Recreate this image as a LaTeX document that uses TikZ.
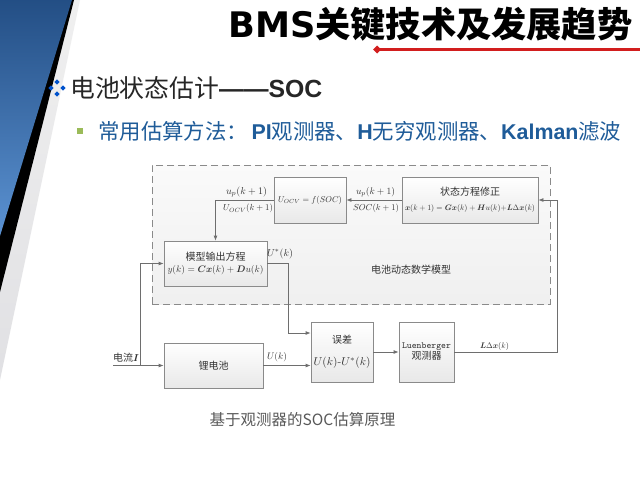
\RequirePackage{fix-cm}
\documentclass[tikz,border=0pt]{standalone}
\usepackage{amsmath}
\usepackage{fontspec}
\usepackage{graphicx}
\newfontfamily\cjk{Noto Sans CJK SC}
\newfontfamily\verd{DejaVu Sans}
\newfontfamily\arial{Liberation Sans}
\usetikzlibrary{arrows.meta,calc}
\newcommand\fw[2]{\resizebox{#1pt}{!}{#2}}
\definecolor{txt}{HTML}{333333}
\definecolor{bord}{HTML}{8A8A8A}
\definecolor{bandblue}{HTML}{2C62A6}
\definecolor{bandlight}{HTML}{5B92D2}
\definecolor{subblue}{HTML}{1F5C99}
\definecolor{bulletgreen}{HTML}{9BBB59}
\definecolor{redline}{HTML}{D21E1E}
\begin{document}
\begin{tikzpicture}[x=1pt,y=-1pt,
  box/.style={draw=bord, line width=0.8pt, top color=white, bottom color=black!9, text=txt, inner sep=1pt, align=center},
  dashbox/.style={draw=bord, line width=1pt, dash pattern=on 7pt off 4pt, top color=black!2, bottom color=black!6},
  arr/.style={draw=bord!80!black, line width=0.8pt, -{Latex[length=5pt,width=4pt]}},
  lbl/.style={text=txt, inner sep=0pt},
  cjklbl/.style={text=txt, inner sep=0pt, font=\cjk\fontsize{10}{12}\selectfont}]
\useasboundingbox (0,0) rectangle (640,480);
\fill[white] (0,0) rectangle (640,480);
% left decorative band
\shade[top color=black!6, bottom color=blue!10!black!12] (0,0) -- (80,0) -- (0,380) -- cycle;
\fill[black] (0,0) -- (74,0) -- (0,292) -- cycle;
\shade[left color=bandblue!80!black, right color=bandlight, shading angle=0] (0,0) -- (72,0) -- (0,236) -- cycle;
% title
\node[anchor=base west, inner sep=0pt, font=\fontsize{35.2}{37}\selectfont\bfseries] (title) at (228,37) {{\verd BMS}{\cjk 关键技术及发展趋势}};
\fill[redline] (377,48) -- (640,48) -- (640,51) -- (377,51) -- cycle;
\fill[redline] (377,45.5) -- (381,49.5) -- (377,53.5) -- (373,49.5) -- cycle;
% bullet 1
\foreach \dx/\dy in {0/-6,-6/0,6/0,0/6}
  \fill[blue!60!cyan!80!black] ($(57,88)+(\dx,\dy)$) +(0,-2.6) -- +(2.6,0) -- +(0,2.6) -- +(-2.6,0) -- cycle;
\node[anchor=base west, inner sep=0pt, font=\fontsize{24.8}{26}\selectfont] (h1) at (70,97) {{\cjk\color{black!85}电池状态估计}{\arial\bfseries\color{black!85}——SOC}};
% bullet 2
\fill[bulletgreen] (77,128) rectangle (83,134);
\node[anchor=base west, inner sep=0pt, text=subblue, font=\fontsize{21.4}{23}\selectfont] (h2) at (98,139) {{\cjk 常用估算方法：}\,{\arial\bfseries PI}{\cjk 观测器、}{\arial\bfseries H}{\cjk 无穷观测器、}{\arial\bfseries Kalman}{\cjk 滤波}};
% dashed model box
\node[dashbox, minimum width=398pt, minimum height=139pt, inner sep=0pt] (dyn) at (351,234.5) {};
\node[cjklbl] (dynlbl) at (411,270) {电池动态数学模型};
% boxes
\node[box, minimum width=72pt, minimum height=46pt] (ocv) at (310,200) {\fw{64}{$U_{OCV}=f(SOC)$}};
\node[box, minimum width=136pt, minimum height=46pt] (state) at (470,200) {{\cjk\fontsize{10}{12}\selectfont 状态方程修正}\\[3pt]\fw{130}{$\boldsymbol{x}(k+1)=\boldsymbol{G}\boldsymbol{x}(k)+\boldsymbol{H}u(k){+}\boldsymbol{L}\Delta\boldsymbol{x}(k)$}};
\node[box, minimum width=103pt, minimum height=45pt] (model) at (215.5,263.5) {{\cjk\fontsize{10}{12}\selectfont 模型输出方程}\\[0pt]\fw{96}{$y(k)=\boldsymbol{C}\boldsymbol{x}(k)+\boldsymbol{D}u(k)$}};
\node[box, minimum width=99pt, minimum height=45pt, font=\cjk\fontsize{10}{12}\selectfont] (batt) at (213.5,365.5) {锂电池};
\node[box, minimum width=62pt, minimum height=60pt] (err) at (342,352) {{\cjk\fontsize{10}{12}\selectfont 误差}\\[10pt]\fw{57}{$U(k)$-$U^{*}(k)$}};
\node[box, minimum width=55pt, minimum height=60pt] (lub) at (426.5,352) {{\ttfamily\fontsize{9.3}{11}\selectfont Luenberger}\\[-1pt]{\cjk\fontsize{10}{12}\selectfont 观测器}};
% connectors
\coordinate (in) at (113,365.5);
\coordinate (br) at (140,365.5);
\coordinate (m1) at (288,333);
\coordinate (fb) at (557,352);
\draw[arr] (state.west) -- (ocv.east);
\draw[arr] (ocv.west) -| (model.north);
\draw[arr] (in) -- (batt.west);
\draw[arr] (br) |- (model.west);
\draw[arr] (model.east) -| (m1) -- (m1 -| err.west);
\draw[arr] (batt.east) -- (batt.east -| err.west);
\draw[arr] (err.east) -- (lub.west);
\draw[arr] (lub.east) -- (fb) |- (state.east);
% labels
\node[lbl] (l1) at (375.5,192) {\fw{39}{$u_p(k+1)$}};
\node[lbl] (l2) at (376,208.5) {\fw{46}{$SOC(k+1)$}};
\node[lbl] (l3) at (246.5,192) {\fw{41}{$u_p(k+1)$}};
\node[lbl] (l4) at (248,208.5) {\fw{50}{$U_{OCV}(k+1)$}};
\node[lbl] (l5) at (280,254) {\fw{26}{$U^{*}(k)$}};
\node[lbl] (l6) at (277,357) {\fw{20}{$U(k)$}};
\node[lbl] (l7) at (494.5,346) {\fw{29}{$\boldsymbol{L}\Delta\boldsymbol{x}(k)$}};
\node[cjklbl, anchor=base west] (l8) at (113,361) {电流$\boldsymbol{I}$};
% caption
\node[anchor=base, inner sep=0pt, text=black!65, font=\cjk\fontsize{15.5}{17}\selectfont] (cap) at (302.5,425) {基于观测器的SOC估算原理};
\end{tikzpicture}
\end{document}
